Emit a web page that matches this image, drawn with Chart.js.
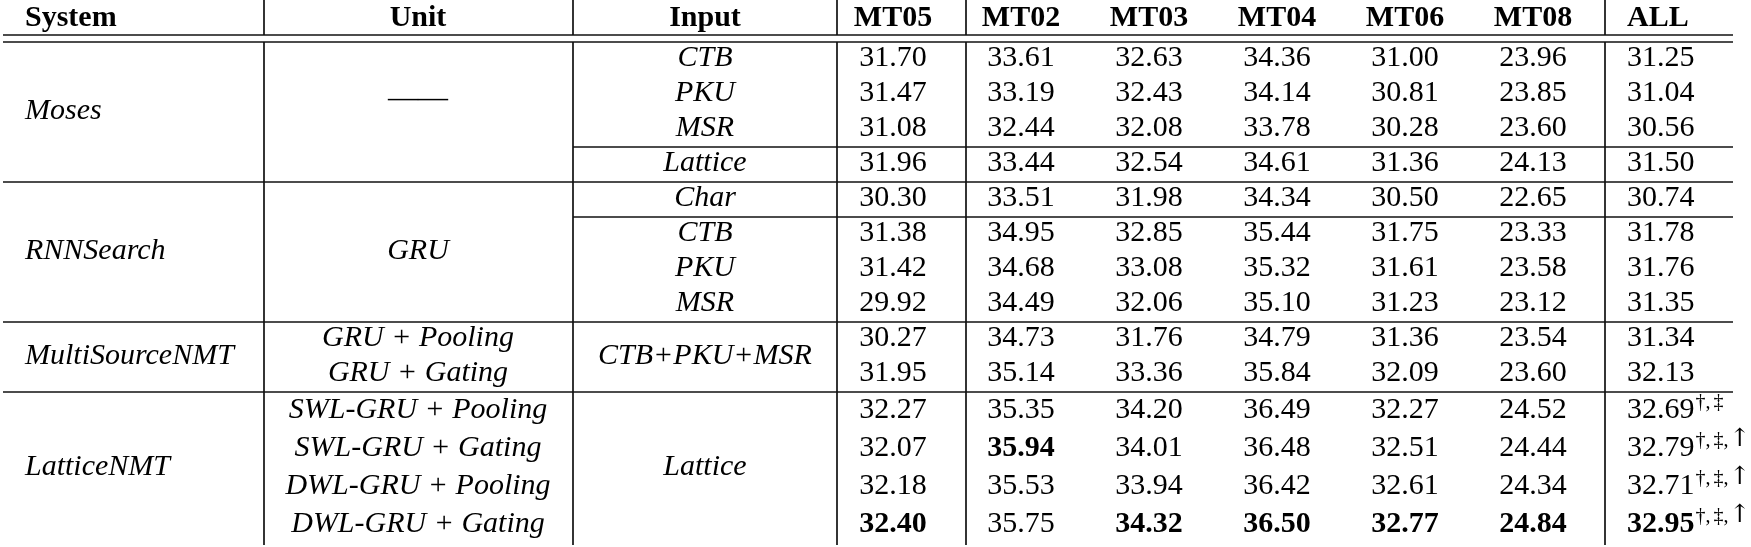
<!DOCTYPE html>
<html>
<head>
<meta charset="utf-8">
<script src="https://cdn.jsdelivr.net/npm/chart.js@4.4.0/dist/chart.umd.min.js"></script>
<style>
  html, body { margin: 0; padding: 0; background: #fff; }
  #wrap { width: 1751px; height: 547px; }
</style>
</head>
<body>
<div id="wrap"><canvas id="table"></canvas></div>
<script>
// table content
const columns = ["MT05", "MT02", "MT03", "MT04", "MT06", "MT08", "ALL"];
const headers = ["System", "Unit", "Input"];
const systems = [["Moses", 4], ["RNNSearch", 4], ["MultiSourceNMT", 2], ["LatticeNMT", 4]];
const units = [["——", 4], ["GRU", 4], ["GRU + Pooling", 1], ["GRU + Gating", 1],
  ["SWL-GRU + Pooling", 1], ["SWL-GRU + Gating", 1], ["DWL-GRU + Pooling", 1], ["DWL-GRU + Gating", 1]];
const inputs = [["CTB", 1], ["PKU", 1], ["MSR", 1], ["Lattice", 1], ["Char", 1], ["CTB", 1], ["PKU", 1],
  ["MSR", 1], ["CTB+PKU+MSR", 2], ["Lattice", 4]];

const mt05 = [31.70, 31.47, 31.08, 31.96, 30.30, 31.38, 31.42, 29.92, 30.27, 31.95, 32.27, 32.07, 32.18, 32.40];
const mt02 = [33.61, 33.19, 32.44, 33.44, 33.51, 34.95, 34.68, 34.49, 34.73, 35.14, 35.35, 35.94, 35.53, 35.75];
const mt03 = [32.63, 32.43, 32.08, 32.54, 31.98, 32.85, 33.08, 32.06, 31.76, 33.36, 34.20, 34.01, 33.94, 34.32];
const mt04 = [34.36, 34.14, 33.78, 34.61, 34.34, 35.44, 35.32, 35.10, 34.79, 35.84, 36.49, 36.48, 36.42, 36.50];
const mt06 = [31.00, 30.81, 30.28, 31.36, 30.50, 31.75, 31.61, 31.23, 31.36, 32.09, 32.27, 32.51, 32.61, 32.77];
const mt08 = [23.96, 23.85, 23.60, 24.13, 22.65, 23.33, 23.58, 23.12, 23.54, 23.60, 24.52, 24.44, 24.34, 24.84];
const all = [31.25, 31.04, 30.56, 31.50, 30.74, 31.78, 31.76, 31.35, 31.34, 32.13, 32.69, 32.79, 32.71, 32.95];
const allMarks = ["", "", "", "", "", "", "", "", "", "", "†,‡", "†,‡,↑", "†,‡,↑", "†,‡,↑"];
// best score per column (row index)
const bestRows = [[13], [11], [13], [13], [13], [13], [13]];

// layout (pixels in scale units)
const FONT = "'Liberation Serif', 'Times New Roman', serif";
const SIZE = 30;
const colLines = [264, 573, 837, 966, 1605];
const tableLeft = 3, tableRight = 1733, tableBottom = 545;
const textX = [25, 418, 705, 893, 1021, 1149, 1277, 1405, 1533, 1627];
const headerY = 18, rule1 = 35, rule2 = 42;
const rowHeights = [35, 35, 35, 35, 35, 35, 35, 35, 35, 35, 38, 38, 38, 38];
// [after row, starts at x]
const rules = [[2, 573], [3, tableLeft], [4, 573], [7, tableLeft], [9, tableLeft]];

const rowTop = [rule2];
rowHeights.forEach((h, i) => rowTop.push(rowTop[i] + h));
const spanCenter = (start, n) => (rowTop[start] + rowTop[start + n]) / 2 - 1;

const series = [mt05, mt02, mt03, mt04, mt06, mt08, all];

const tablePlugin = {
  id: "tablePlugin",
  afterDraw(chart) {
    const ctx = chart.ctx;
    const sx = chart.scales.x, sy = chart.scales.y;
    const px = v => sx.getPixelForValue(v);
    const py = v => sy.getPixelForValue(v);

    const text = (str, xv, yv, style, align, size, family) => {
      ctx.font = style + " " + (size || SIZE) + "px " + (family || FONT);
      ctx.textAlign = align || "center";
      ctx.textBaseline = "middle";
      ctx.fillStyle = "#000";
      ctx.fillText(str, px(xv), py(yv));
      return ctx.measureText(str).width;
    };
    const hline = (x0, x1, yv) => {
      ctx.beginPath();
      ctx.moveTo(px(x0), py(yv));
      ctx.lineTo(px(x1), py(yv));
      ctx.stroke();
    };
    const vline = (xv, y0, y1) => {
      ctx.beginPath();
      ctx.moveTo(px(xv), py(y0));
      ctx.lineTo(px(xv), py(y1));
      ctx.stroke();
    };

    ctx.save();
    ctx.strokeStyle = "#111";
    ctx.lineWidth = 1.7;
    hline(tableLeft, tableRight, rule1);
    hline(tableLeft, tableRight, rule2);
    rules.forEach(([r, x0]) => hline(x0, tableRight, rowTop[r + 1]));
    colLines.forEach(xv => {
      vline(xv, 0, rule1);
      vline(xv, rule2, tableBottom);
    });

    // header
    text(headers[0], textX[0], headerY, "bold", "left");
    text(headers[1], textX[1], headerY, "bold");
    text(headers[2], textX[2], headerY, "bold");
    columns.forEach((c, j) => {
      text(c, textX[3 + j], headerY, "bold", j === columns.length - 1 ? "left" : "center");
    });

    // spanning label columns
    let r = 0;
    systems.forEach(([s, n]) => { text(s, textX[0], spanCenter(r, n), "italic", "left"); r += n; });
    r = 0;
    units.forEach(([u, n]) => {
      const yv = u === "——" ? spanCenter(r, n) - 12 : spanCenter(r, n);
      text(u, textX[1], yv, u === "——" ? "normal" : "italic");
      r += n;
    });
    r = 0;
    inputs.forEach(([s, n]) => { text(s, textX[2], spanCenter(r, n), "italic"); r += n; });

    // scores
    series.forEach((vals, j) => {
      const last = j === series.length - 1;
      vals.forEach((v, i) => {
        const yv = spanCenter(i, 1);
        const style = bestRows[j].includes(i) ? "bold" : "normal";
        const w = text(v.toFixed(2), textX[3 + j], yv, style, last ? "left" : "center");
        if (last && allMarks[i]) {
          // superscript marks; the arrow comes from DejaVu, it is tiny in Liberation
          let xs = textX[3 + j] + w + 1;
          allMarks[i].split(",").forEach((m, k) => {
            if (k > 0) xs += text(",", xs, yv - 7, "normal", "left", 20) + 3;
            if (m === "↑") {
              xs += text(m, xs - 2, yv - 9, "normal", "left", 25, "'DejaVu Serif', serif");
            } else {
              xs += text(m, xs, yv - 7, "normal", "left", 20);
            }
          });
        }
      });
    });
    ctx.restore();
  }
};

new Chart(document.getElementById("table"), {
  type: "scatter",
  data: { datasets: [{ data: [], showLine: false }] },
  options: {
    responsive: true,
    maintainAspectRatio: false,
    animation: false,
    layout: { padding: 0 },
    plugins: { legend: { display: false }, tooltip: { enabled: false } },
    scales: {
      x: { type: "linear", min: 0, max: 1751, display: false },
      y: { type: "linear", min: 0, max: 547, reverse: true, display: false }
    }
  },
  plugins: [tablePlugin]
});
</script>
</body>
</html>
